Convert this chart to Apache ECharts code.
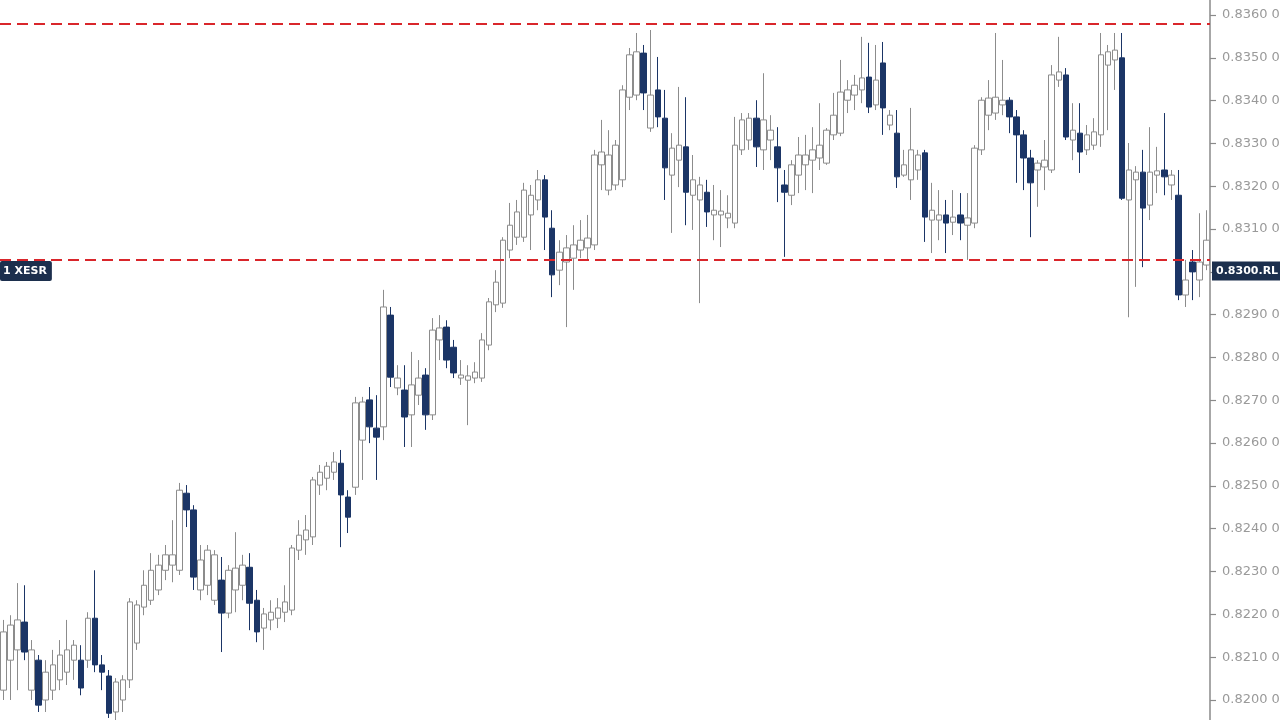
<!DOCTYPE html>
<html>
<head>
<meta charset="utf-8">
<script src="https://cdn.jsdelivr.net/npm/echarts@6/dist/echarts.min.js"></script>
<style>
html,body{margin:0;padding:0;background:#ffffff;}
#chart{width:1280px;height:720px;}
</style>
</head>
<body>
<div id="chart"></div>
<script>
// Prices in units of 0.00001
const opens = [82023,82093,82117,82182,82023,82093,82000,82023,82047,82065,82093,82093,82093,82191,82082,82056,81972,82000,82047,82133,82217,82233,82257,82303,82315,82303,82483,82444,82257,82268,82233,82280,82203,82257,82268,82310,82233,82168,82187,82191,82205,82210,82350,82374,82381,82502,82518,82532,82553,82474,82497,82607,82701,82635,82638,82899,82729,82724,82666,82712,82759,82666,82841,82871,82824,82752,82747,82752,82752,82829,82923,82927,83051,83081,83081,83133,83168,83215,83102,83004,83023,83032,83051,83056,83063,83250,83191,83203,83215,83408,83413,83511,83336,83425,83359,83226,83261,83292,83179,83168,83186,83133,83133,83126,83114,83285,83308,83359,83285,83308,83292,83203,83179,83226,83250,83261,83266,83254,83320,83324,83401,83413,83425,83455,83390,83488,83343,83324,83226,83215,83238,83278,83121,83121,83133,83116,83133,83109,83114,83285,83366,83371,83390,83401,83362,83320,83266,83238,83245,83238,83448,83460,83308,83324,83285,83296,83320,83483,83495,83500,83168,83215,83233,83156,83226,83238,83203,83179,82946,83023,82981,83016];
const closes = [82159,82175,82187,82112,82117,81988,82065,82082,82105,82117,82128,82028,82191,82082,82065,81969,82042,82047,82229,82222,82268,82303,82315,82339,82339,82490,82444,82287,82327,82350,82339,82203,82303,82308,82315,82226,82159,82201,82205,82215,82229,82355,82385,82397,82514,82532,82546,82556,82479,82427,82694,82696,82638,82614,82918,82754,82752,82661,82736,82752,82666,82864,82869,82794,82764,82759,82757,82766,82841,82930,82976,83074,83109,83140,83191,83179,83215,83128,82993,83046,83056,83063,83074,83079,83273,83280,83273,83296,83425,83507,83514,83418,83413,83362,83243,83289,83296,83186,83215,83203,83140,83144,83142,83137,83296,83355,83359,83292,83355,83331,83243,83186,83250,83273,83273,83285,83296,83331,83366,83420,83425,83436,83453,83385,83448,83383,83366,83222,83250,83285,83273,83128,83144,83133,83114,83128,83114,83126,83289,83401,83406,83408,83401,83362,83320,83266,83208,83254,83261,83460,83467,83315,83331,83280,83320,83327,83507,83514,83518,83172,83238,83233,83149,83233,83236,83222,83226,82946,82981,83000,83023,83074];
const lows = [82000,82000,82023,82093,82000,81972,81972,82000,82023,82035,82047,82011,82075,82065,82023,81958,81953,81972,82028,82117,82198,82222,82245,82280,82275,82292,82404,82257,82233,82245,82222,82112,82191,82205,82233,82163,82135,82117,82163,82168,82182,82198,82327,82339,82362,82479,82490,82514,82357,82390,82479,82514,82600,82514,82607,82731,82712,82591,82591,82689,82631,82654,82794,82775,82752,82736,82642,82740,82743,82817,82906,82916,83032,83063,83070,83051,83144,83051,82941,82969,82871,82958,83032,83028,83051,83191,83179,83191,83198,83378,83401,83378,83327,83338,83168,83091,83198,83109,83098,82927,83105,83074,83058,83102,83102,83273,83285,83245,83238,83261,83163,83035,83156,83184,83191,83184,83238,83250,83308,83317,83371,83378,83394,83371,83378,83320,83331,83196,83222,83168,83215,83070,83044,83074,83044,83086,83074,83028,83102,83273,83331,83355,83366,83324,83208,83191,83081,83152,83191,83231,83432,83308,83261,83231,83273,83285,83292,83331,83425,83168,82894,82965,83011,83121,83184,83179,83168,82934,82918,82934,82941,83004];
const highs = [82187,82198,82273,82268,82140,82105,82093,82117,82140,82187,82140,82128,82205,82303,82105,82070,82051,82058,82238,82233,82303,82343,82339,82362,82420,82507,82502,82455,82362,82362,82350,82334,82315,82392,82339,82343,82257,82215,82233,82238,82268,82362,82420,82432,82521,82549,82556,82579,82584,82490,82708,82708,82731,82712,82958,82918,82782,82782,82813,82794,82775,82892,82899,82887,82841,82794,82782,82789,82857,82939,83004,83081,83161,83168,83208,83203,83238,83226,83144,83074,83086,83109,83121,83133,83285,83355,83331,83308,83436,83523,83558,83530,83565,83502,83425,83324,83432,83408,83273,83222,83215,83203,83191,83179,83362,83371,83371,83401,83464,83366,83338,83238,83261,83315,83320,83338,83394,83336,83418,83495,83448,83460,83549,83535,83530,83537,83378,83378,83285,83383,83285,83285,83208,83191,83168,83191,83184,83184,83296,83408,83448,83558,83495,83408,83378,83331,83285,83261,83308,83483,83549,83476,83394,83394,83343,83359,83558,83530,83558,83558,83301,83247,83285,83338,83292,83371,83238,83238,83028,83051,83137,83144];

const resistanceLevel = 83579;
const supportLevel = 83028;
const currentPrice = 83002;
const supportTag = '1 XESR';
const priceTag = '0.8300.RL';

const axisMin = 81900, axisMax = 83700, axisStep = 100;
const tickLabels = ['0.8190 000','0.8200 000','0.8210 000','0.8220 000','0.8230 000','0.8240 000','0.8250 000','0.8260 000','0.8270 000','0.8280 000','0.8290 000','0.8300 000','0.8310 000','0.8320 000','0.8330 000','0.8340 000','0.8350 000','0.8360 000','0.8370 000'];

const categories = opens.map((_, i) => String(i + 1));
const ohlc = opens.map((o, i) => [o, closes[i], lows[i], highs[i]]);

const chart = echarts.init(document.getElementById('chart'), null, {renderer: 'canvas'});
chart.setOption({
  backgroundColor: '#ffffff',
  animation: false,
  grid: {left: 0, right: 70, top: -27.8, bottom: -22.8, containLabel: false, outerBoundsMode: 'none'},
  xAxis: {
    type: 'category',
    data: categories,
    boundaryGap: true,
    show: false
  },
  yAxis: {
    type: 'value',
    position: 'right',
    min: axisMin,
    max: axisMax,
    interval: axisStep,
    splitLine: {show: false},
    axisLine: {show: true, lineStyle: {color: '#8a8a8a', width: 1.5}},
    axisTick: {show: true, length: 6, lineStyle: {color: '#8a8a8a', width: 1.2}},
    axisLabel: {
      margin: 12,
      color: '#9a9a9a',
      fontSize: 13,
      fontFamily: 'DejaVu Sans',
      formatter: function (v) {
        const k = Math.round((v - axisMin) / axisStep);
        return tickLabels[k] || '';
      }
    }
  },
  series: [{
    type: 'candlestick',
    data: ohlc,
    barWidth: 6,
    itemStyle: {
      color: '#ffffff',
      color0: '#1b3566',
      borderColor: '#8c8c8c',
      borderColor0: '#1b3566',
      borderWidth: 1
    },
    markLine: {
      silent: true,
      symbol: 'none',
      animation: false,
      data: [
        {yAxis: resistanceLevel, lineStyle: {color: '#d9262b', width: 2, type: [11, 6]}, label: {show: false}},
        {yAxis: supportLevel, lineStyle: {color: '#d9262b', width: 2, type: [11, 6]},
          label: {show: true, position: 'insideStartBottom', distance: [0, 1], formatter: supportTag,
            color: '#ffffff', backgroundColor: '#1c2f4d', padding: [5, 5, 4, 3], borderRadius: 2,
            fontSize: 11, fontWeight: 'bold', fontFamily: 'DejaVu Sans'}},
        {yAxis: currentPrice, lineStyle: {color: 'rgba(0,0,0,0)', width: 0},
          label: {show: true, position: 'end', distance: 2, formatter: priceTag,
            color: '#ffffff', backgroundColor: '#1c2f4d', padding: [4, 5, 4, 4],
            fontSize: 11, fontWeight: 'bold', fontFamily: 'DejaVu Sans'}}
      ]
    }
  }]
});
</script>
</body>
</html>
